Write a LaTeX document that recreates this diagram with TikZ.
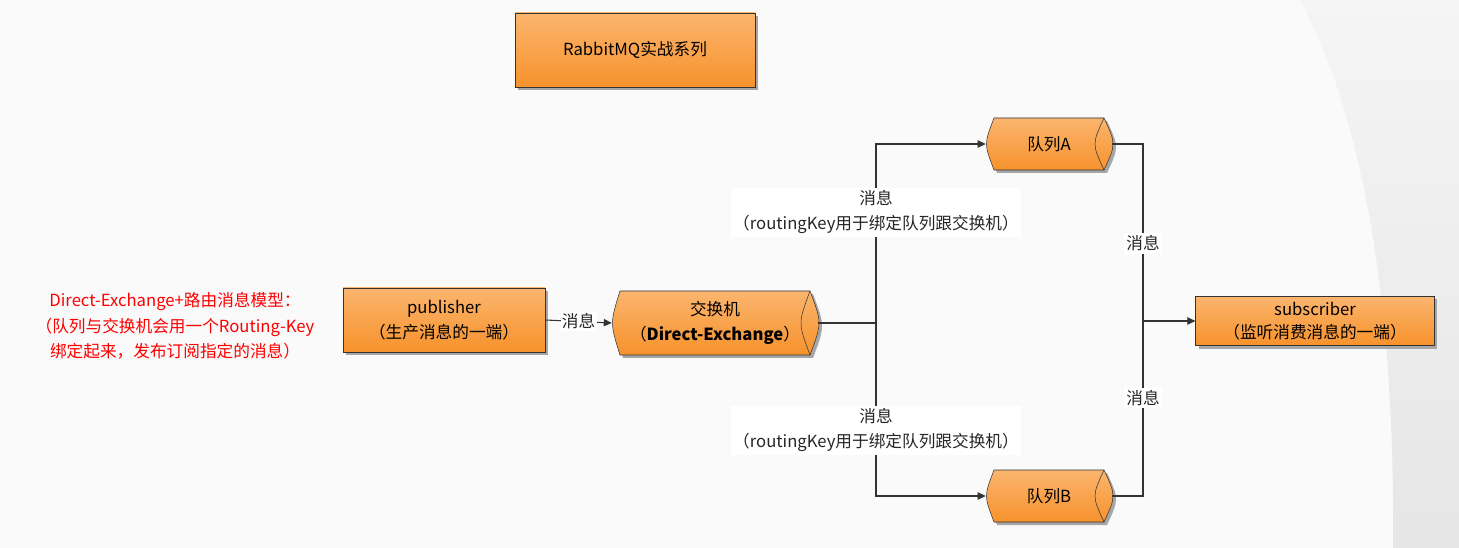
\documentclass[tikz,border=0pt]{standalone}
\usepackage{fontspec}
\setmainfont{Noto Sans CJK SC}
\usetikzlibrary{arrows.meta,shadows}
\definecolor{otop}{HTML}{FBB56E}
\definecolor{obot}{HTML}{F7922C}
\begin{document}
\begin{tikzpicture}[x=0.75pt,y=-0.75pt,font=\fontsize{12.5}{19}\selectfont,
  box/.style={draw=black!80,top color=otop,bottom color=obot,drop shadow={shadow xshift=2.25pt,shadow yshift=-2.25pt,fill=black!35,opacity=1}},
  lbl/.style={fill=white,inner sep=2pt,align=center,text=black!85},
  conn/.style={draw=black!80,line width=0.8pt},
  arr/.style={conn,-{Triangle[length=6pt,width=5.5pt]}}]
\useasboundingbox (0,0) rectangle (1459,548);
\fill[black!2] (0,0) rectangle (1459,548);
\shade[top color=black!4,bottom color=black!10] (1300,0) .. controls (1370,130) and (1395,330) .. (1393,548) -- (1459,548) -- (1459,0) -- cycle;
\newcommand{\qshape}[4]{%
 \fill[black!35] ({#1+11},{#2+3}) .. controls ({#1+1},{(#2+#4)/2}) .. ({#1+11},{#4+3}) -- ({#3+3},{#4+3}) .. controls ({#3+15},{(#2+#4)/2+3}) .. ({#3+3},{#2+3}) -- cycle;
 \shade[top color=otop,bottom color=obot,draw=black!80] ({#1+8},#2) .. controls ({#1-2},{(#2+#4)/2}) .. ({#1+8},#4) -- (#3,#4) .. controls ({#3+12},{(#2+#4)/2}) .. (#3,#2) -- cycle;
 \draw[black!80] (#3,#2) .. controls ({#3-12},{(#2+#4)/2}) .. (#3,#4);}
\qshape{612}{291}{810}{355}
\qshape{986}{118}{1104}{170}
\qshape{986}{470}{1104}{522}
\node[box,minimum width=180pt,minimum height=55.5pt] (t) at (635,50) {RabbitMQ实战系列};
\node[box,minimum width=151.5pt,minimum height=48pt,align=center] (p) at (444,320) {publisher\\（生产消息的一端）};
\node[align=center,minimum width=154.5pt,minimum height=48pt] (e) at (715,323) {交换机\\（\textbf{Direct-Exchange}）};
\node[minimum width=94.5pt,minimum height=39pt] (qa) at (1049,144) {队列A};
\node[minimum width=94.5pt,minimum height=39pt] (qb) at (1049,496) {队列B};
\node[box,minimum width=179pt,minimum height=37pt,align=center,inner sep=0pt,font=\fontsize{12.5}{17}\selectfont] (s) at (1315,321) {subscriber\\（监听消费消息的一端）};
\node[text=red,align=center] (note) at (175,326) {Direct-Exchange+路由消息模型：\\（队列与交换机会用一个Routing-Key\\绑定起来，发布订阅指定的消息）};
\coordinate (j) at (876,323);
\coordinate (k) at (1143,321);
\draw[arr] (p.east) -- node[lbl,inner sep=1pt]{消息} (e.west);
\draw[conn] (818,323) -- (j);
\draw[arr] (j) |- node[lbl,pos=0.31]{消息\\（routingKey用于绑定队列跟交换机）} (qa.west);
\draw[arr] (j) |- node[lbl,pos=0.31]{消息\\（routingKey用于绑定队列跟交换机）} (qb.west);
\draw[conn] (1112,144) -| node[lbl,pos=0.78]{消息} (k);
\draw[conn] (1112,496) -| node[lbl,pos=0.78]{消息} (k);
\draw[arr] (k) -- (s.west);
\end{tikzpicture}
\end{document}
